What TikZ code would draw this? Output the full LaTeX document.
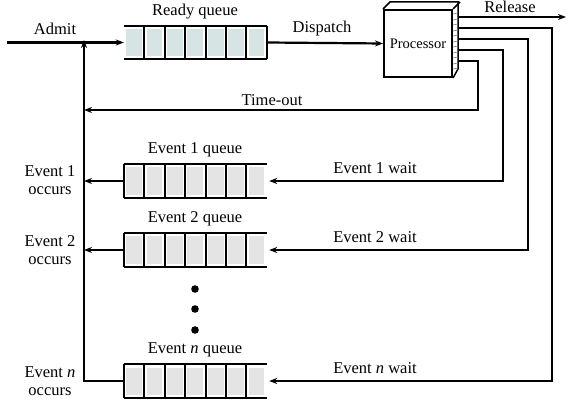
\documentclass[tikz,border=0pt]{standalone}
\usepackage{fontspec}
\setmainfont{Liberation Serif}
\usetikzlibrary{arrows.meta,calc}
\definecolor{readyfill}{HTML}{D6E4E4}
\definecolor{eventfill}{HTML}{E4E4E4}
\tikzset{
  conn/.style={line width=2.2pt},
  arr/.style={conn,-{Stealth[length=8pt,width=6pt]}},
  lbl/.style={font=\fontsize{16.5}{18}\selectfont, inner sep=0pt},
  qbox/.style={minimum width=143pt, minimum height=33pt, inner sep=0pt},
}
\newcommand{\drawqueue}[2]{% name, fill
  \foreach \k in {0,...,6}{
    \fill[#2] ($(#1.south west)+(\k*20.43pt+2.3pt,2.8pt)$) rectangle ++(15.8pt,27.4pt);
  }
  \draw[line width=2.2pt] (#1.north west) -- (#1.north east);
  \draw[line width=2.2pt] (#1.south west) -- (#1.south east);
  \foreach \k in {1,...,6}{
    \draw[line width=2pt] ($(#1.south west)+(\k*20.43pt,0)$) -- ++(0,33pt);
  }
}
\begin{document}
\begin{tikzpicture}[x=1pt,y=-1pt]
\useasboundingbox (0,0) rectangle (578,403);

% queues
\node[qbox] (ready) at (195.5,42.5) {};
\node[qbox] (q1) at (195.5,181) {};
\node[qbox] (q2) at (195.5,250) {};
\node[qbox] (qn) at (195.5,381) {};
\drawqueue{ready}{readyfill}
\draw[line width=2pt] (ready.north east) -- (ready.south east);
\drawqueue{q1}{eventfill}
\draw[line width=2pt] (q1.north west) -- (q1.south west);
\drawqueue{q2}{eventfill}
\draw[line width=2pt] (q2.north west) -- (q2.south west);
\drawqueue{qn}{eventfill}
\draw[line width=2pt] (qn.north west) -- (qn.south west);

% processor 3D box
\node[draw, line width=2pt, minimum width=68pt, minimum height=67pt, inner sep=0pt,
      font=\fontsize{14.5}{16}\selectfont] (proc) at (418,43.5) {Processor};
\draw[line width=1.5pt] (proc.north west) -- ++(7,-7) -- ++(68,0) -- ++(0,67) -- (proc.south east);
\draw[line width=1.5pt] (proc.north east) -- ++(7,-7);
\foreach \yy in {14,20,25,31,36,42,47,53,58,64,69}{
  \draw[line width=0.6pt, gray] (453,\yy) -- (458,\yy-1);
}

% coordinates
\coordinate (admitstart) at (7,42.5);
\coordinate (ret) at (84,42.5);
\coordinate (retbot) at (84,381);
\coordinate (o1) at (84,181);
\coordinate (o2) at (84,250);
\coordinate (relS) at (459,17);
\coordinate (relE) at (566,17);
\coordinate (wnS) at (459,28);
\coordinate (wnC) at (552,28);
\coordinate (w2S) at (459,39);
\coordinate (w2C) at (528,39);
\coordinate (w1S) at (459,50);
\coordinate (w1C) at (503,50);
\coordinate (toS) at (459,61);
\coordinate (toC) at (478,61);
\coordinate (toE) at (84,110);

% connectors
\draw[arr] (admitstart) -- (ready.west);
\draw[arr] (ready.east) -- (proc.west);
\draw[arr] (relS) -- (relE);
\draw[arr] (qn.west) -- (retbot) -- ([yshift=2.5pt]ret);
\draw[arr] (q1.west) -- (o1);
\draw[arr] (q2.west) -- (o2);
\draw[arr] (toS) -- (toC) |- (toE);
\draw[arr] (w1S) -- (w1C) |- ([xshift=2pt]q1.east);
\draw[arr] (w2S) -- (w2C) |- ([xshift=2pt]q2.east);
\draw[arr] (wnS) -- (wnC) |- ([xshift=2pt]qn.east);

% labels
\node[lbl] (tadmit) at (55,29) {Admit};
\node[lbl] (tready) at (195,12) {Ready queue};
\node[lbl] (tdisp) at (322,29) {Dispatch};
\node[lbl] (trel) at (510,6.5) {Release};
\node[lbl] (tto) at (272,100) {Time-out};
\node[lbl] (tq1) at (195,150) {Event 1 queue};
\node[lbl] (tq2) at (195,219) {Event 2 queue};
\node[lbl] (tqn) at (195,350) {Event \textit{n} queue};
\node[lbl] (tw1) at (375,168) {Event 1 wait};
\node[lbl] (tw2) at (375,237) {Event 2 wait};
\node[lbl] (twn) at (375,368) {Event \textit{n} wait};
\node[lbl, align=center] (to1) at (50,180) {Event 1\\occurs};
\node[lbl, align=center] (to2) at (50,250) {Event 2\\occurs};
\node[lbl, align=center] (ton) at (50,381) {Event \textit{n}\\occurs};

% dots
\fill (195,289) circle (3.8pt);
\fill (195,309) circle (3.8pt);
\fill (195,330) circle (3.8pt);
\end{tikzpicture}
\end{document}
